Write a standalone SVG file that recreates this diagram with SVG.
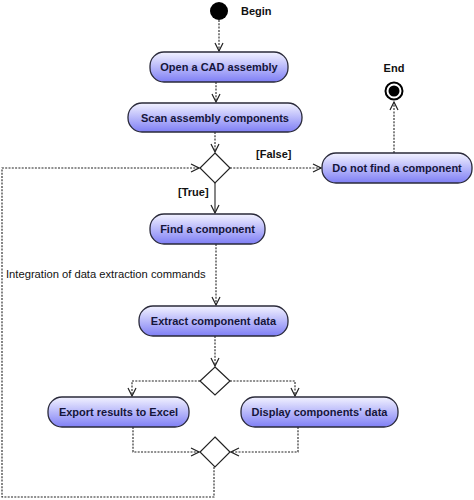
<svg xmlns="http://www.w3.org/2000/svg" width="474" height="500" viewBox="0 0 474 500">
  <defs>
    <linearGradient id="actFill" x1="0" y1="0" x2="0" y2="1">
      <stop offset="0" stop-color="#f2f2ff"/>
      <stop offset="1" stop-color="#7f7ff5"/>
    </linearGradient>
    <marker id="open" viewBox="0 0 10 10" refX="9" refY="5" markerWidth="10" markerHeight="10" markerUnits="userSpaceOnUse" orient="auto">
      <path d="M1,1 L9,5 L1,9" fill="none" stroke="#222" stroke-width="1.2"/>
    </marker>
  </defs>
  <style>
    .act rect { fill: url(#actFill); stroke: #2a2a3a; stroke-width: 1.3; }
    .act text { font-family: "Liberation Sans", Arial, sans-serif; font-weight: bold; font-size: 11px; fill: #15153a; text-anchor: middle; }
    .dia { fill: #fff; stroke: #222; stroke-width: 1.2; }
    .flow { fill: none; stroke: #222; stroke-width: 1.1; stroke-dasharray: 2 1.3; }
    .solid { fill: none; stroke: #222; stroke-width: 1.1; }
    .lbl { font-family: "Liberation Sans", Arial, sans-serif; font-size: 11.2px; fill: #111; }
    .blbl { font-family: "Liberation Sans", Arial, sans-serif; font-size: 11px; font-weight: bold; fill: #111; }
  </style>
  <rect width="474" height="500" fill="#fff"/>

  <!-- connectors -->
  <g id="connectors">
    <path class="flow" d="M219,20 V51" marker-end="url(#open)"/>
    <path class="flow" d="M216,82 V102" marker-end="url(#open)"/>
    <path class="flow" d="M215,132 V152" marker-end="url(#open)"/>
    <path class="flow" d="M230,168 H321" marker-end="url(#open)"/>
    <path class="flow" d="M394,153 V102" marker-end="url(#open)"/>
    <path class="solid" d="M215,183 V213" marker-end="url(#open)"/>
    <path class="flow" d="M216,244 V305" marker-end="url(#open)"/>
    <path class="flow" d="M215,336 V366" marker-end="url(#open)"/>
    <path class="flow" d="M200,381 H132 V396" marker-end="url(#open)"/>
    <path class="flow" d="M230,381 H295 V396" marker-end="url(#open)"/>
    <path class="flow" d="M133,427 V452 H199" marker-end="url(#open)"/>
    <path class="flow" d="M298,427 V452 H231" marker-end="url(#open)"/>
    <path class="flow" d="M214,467 V497 H2 V168 H199" marker-end="url(#open)"/>
    <text class="blbl" x="256" y="158">[False]</text>
    <text class="blbl" x="178" y="196">[True]</text>
    <text class="lbl" x="6" y="278">Integration of data extraction commands</text>
  </g>

  <g id="begin">
    <circle cx="219" cy="11" r="9" fill="#000"/>
    <text class="blbl" x="241" y="15">Begin</text>
  </g>

  <g id="end">
    <circle cx="394" cy="91" r="8.5" fill="#fff" stroke="#000" stroke-width="2"/>
    <circle cx="394" cy="91" r="5.5" fill="#000"/>
    <text class="blbl" x="394" y="72" text-anchor="middle">End</text>
  </g>

  <g id="open-cad" class="act">
    <rect x="150" y="52" width="138" height="30" rx="14"/>
    <text x="219" y="71">Open a CAD assembly</text>
  </g>

  <g id="scan" class="act">
    <rect x="128" y="103" width="174" height="29" rx="14"/>
    <text x="215" y="121.5">Scan assembly components</text>
  </g>

  <g id="decision">
    <polygon class="dia" points="215,153 230,168 215,183 200,168"/>
  </g>

  <g id="not-found" class="act">
    <rect x="322" y="153" width="150" height="30" rx="14"/>
    <text x="397" y="172">Do not find a component</text>
  </g>

  <g id="find" class="act">
    <rect x="150" y="214" width="115" height="30" rx="14"/>
    <text x="207.5" y="233">Find a component</text>
  </g>

  <g id="extract" class="act">
    <rect x="139" y="306" width="149" height="30" rx="14"/>
    <text x="213.5" y="325">Extract component data</text>
  </g>

  <g id="fork">
    <polygon class="dia" points="215,367 230,381 215,395 200,381"/>
  </g>

  <g id="export" class="act">
    <rect x="48" y="397" width="141" height="30" rx="14"/>
    <text x="118.5" y="416">Export results to Excel</text>
  </g>

  <g id="display" class="act">
    <rect x="241" y="397" width="157" height="30" rx="14"/>
    <text x="319.5" y="416">Display components' data</text>
  </g>

  <g id="merge">
    <polygon class="dia" points="215,437 230,452 215,467 200,452"/>
  </g>
</svg>
